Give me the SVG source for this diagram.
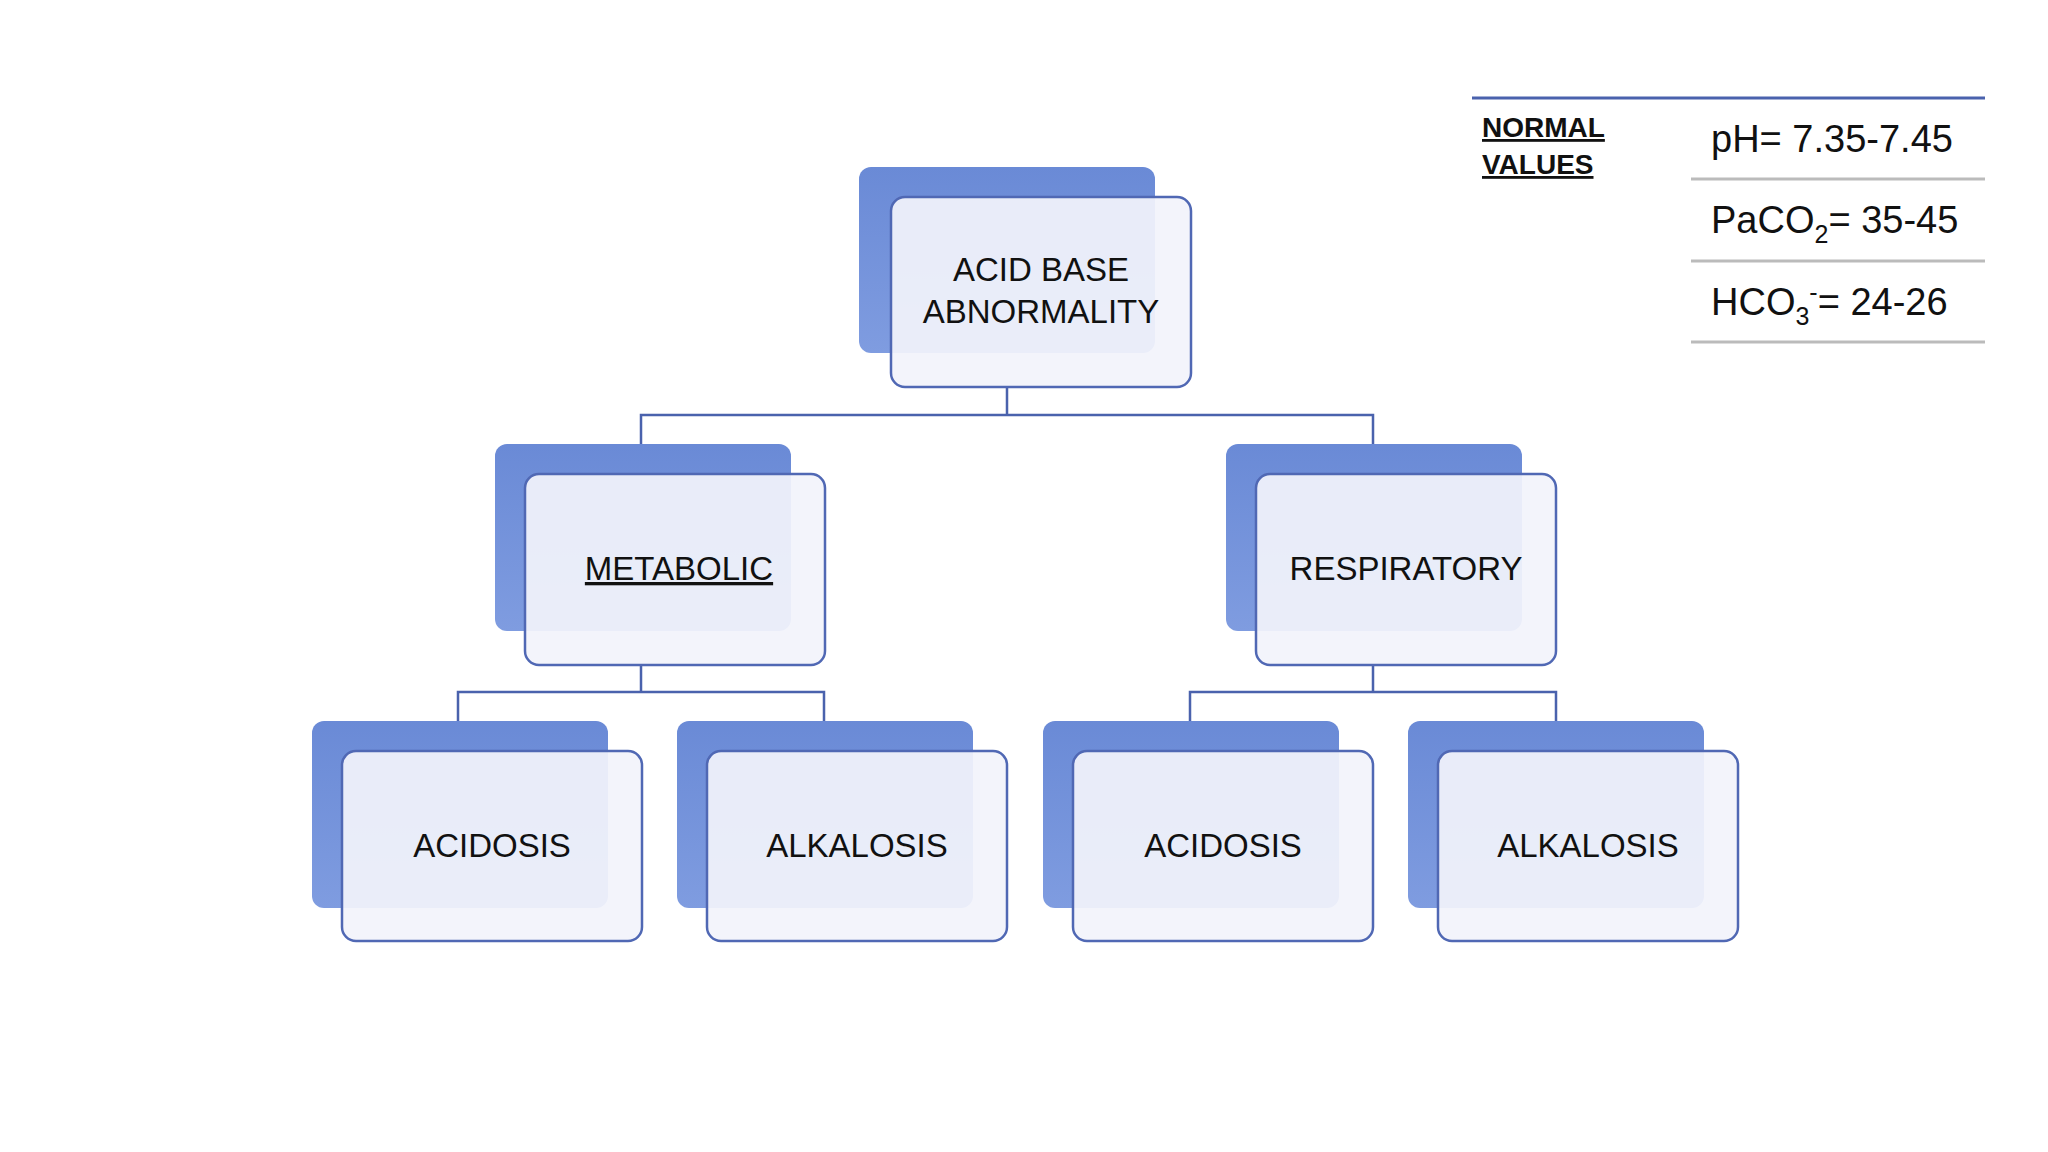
<svg xmlns="http://www.w3.org/2000/svg" width="2048" height="1152" viewBox="0 0 2048 1152">
<defs>
<linearGradient id="bg" x1="0" y1="0" x2="0" y2="1"><stop offset="0" stop-color="#6a8ad6"/><stop offset="1" stop-color="#7f9ce0"/></linearGradient>
<style>
.back{fill:url(#bg);}
.front{fill:#f2f3fb;fill-opacity:0.93;stroke:#5068b4;stroke-width:2.5;}
.lbl{font-family:"Liberation Sans",Arial,sans-serif;font-size:33px;fill:#111;text-anchor:middle;}
.conn{fill:none;stroke:#4a62ad;stroke-width:2.5;}
.tv{font-family:"Liberation Sans",Arial,sans-serif;font-size:38px;fill:#111;}
.th{font-family:"Liberation Sans",Arial,sans-serif;font-size:28px;font-weight:bold;fill:#111;text-decoration:underline;}
.rule{stroke:#bbbbbb;stroke-width:3;}
</style>
</defs>
<rect width="2048" height="1152" fill="#ffffff"/>
<g id="connectors">
<path class="conn" d="M1007 387V415M641 444V415H1373V444"/>
<path class="conn" d="M641 665V692M458 721V692H824V721"/>
<path class="conn" d="M1373 665V692M1190 721V692H1556V721"/>
</g>
<g id="root"><rect class="back" x="859" y="167" width="296" height="186" rx="12"/><rect class="front" x="891" y="197" width="300" height="190" rx="14"/><text class="lbl" x="1041" y="281">ACID BASE</text><text class="lbl" x="1041" y="323">ABNORMALITY</text></g>
<g id="metabolic"><rect class="back" x="495" y="444" width="296" height="187" rx="12"/><rect class="front" x="525" y="474" width="300" height="191" rx="14"/><text class="lbl" x="679" y="580" text-decoration="underline"> METABOLIC</text></g>
<g id="respiratory"><rect class="back" x="1226" y="444" width="296" height="187" rx="12"/><rect class="front" x="1256" y="474" width="300" height="191" rx="14"/><text class="lbl" x="1406" y="580">RESPIRATORY</text></g>
<g id="m-acidosis"><rect class="back" x="312" y="721" width="296" height="187" rx="12"/><rect class="front" x="342" y="751" width="300" height="190" rx="14"/><text class="lbl" x="492" y="857">ACIDOSIS</text></g>
<g id="m-alkalosis"><rect class="back" x="677" y="721" width="296" height="187" rx="12"/><rect class="front" x="707" y="751" width="300" height="190" rx="14"/><text class="lbl" x="857" y="857">ALKALOSIS</text></g>
<g id="r-acidosis"><rect class="back" x="1043" y="721" width="296" height="187" rx="12"/><rect class="front" x="1073" y="751" width="300" height="190" rx="14"/><text class="lbl" x="1223" y="857">ACIDOSIS</text></g>
<g id="r-alkalosis"><rect class="back" x="1408" y="721" width="296" height="187" rx="12"/><rect class="front" x="1438" y="751" width="300" height="190" rx="14"/><text class="lbl" x="1588" y="857">ALKALOSIS</text></g>
<g id="normal-values">
<line x1="1472" y1="98" x2="1985" y2="98" stroke="#4a62ad" stroke-width="3"/>
<line class="rule" x1="1691" y1="179" x2="1985" y2="179"/>
<line class="rule" x1="1691" y1="261" x2="1985" y2="261"/>
<line class="rule" x1="1691" y1="342" x2="1985" y2="342"/>
<text class="th" x="1482" y="137">NORMAL</text>
<text class="th" x="1482" y="174">VALUES</text>
<text class="tv" x="1711" y="152">pH= 7.35-7.45</text>
<text class="tv" x="1711" y="233">PaCO<tspan font-size="25" dy="10">2</tspan><tspan dy="-10">= 35-45</tspan></text>
<text class="tv" x="1711" y="315">HCO<tspan font-size="25" dy="10">3</tspan><tspan font-size="25" dy="-24">-</tspan><tspan dy="14">= 24-26</tspan></text>
</g>
</svg>
